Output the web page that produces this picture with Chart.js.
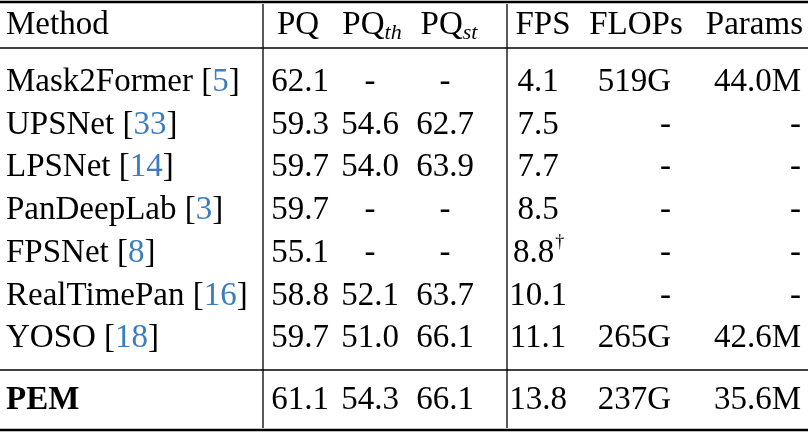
<!DOCTYPE html>
<html>
<head>
<meta charset="utf-8">
<script src="https://cdn.jsdelivr.net/npm/chart.js@4.4.1/dist/chart.umd.min.js"></script>
<style>
  html, body { margin: 0; padding: 0; background: #fff; }
  #wrap { width: 808px; height: 432px; }
</style>
</head>
<body>
<div id="wrap"><canvas id="tbl" width="808" height="432"></canvas></div>
<script>
// table data
const methods = ['Mask2Former', 'UPSNet', 'LPSNet', 'PanDeepLab', 'FPSNet', 'RealTimePan', 'YOSO', 'PEM'];
const cites = ['5', '33', '14', '3', '8', '16', '18', ''];
const pq = ['62.1', '59.3', '59.7', '59.7', '55.1', '58.8', '59.7', '61.1'];
const pqTh = ['-', '54.6', '54.0', '-', '-', '52.1', '51.0', '54.3'];
const pqSt = ['-', '62.7', '63.9', '-', '-', '63.7', '66.1', '66.1'];
const fps = ['4.1', '7.5', '7.7', '8.5', '8.8', '10.1', '11.1', '13.8'];
const flops = ['519G', '-', '-', '-', '-', '-', '265G', '237G'];
const params = ['44.0M', '-', '-', '-', '-', '-', '42.6M', '35.6M'];
const daggerRow = 4;

// layout (pixel space of the linear scales)
const rowY = [82, 125, 167, 210, 253, 296, 338, 400];
const headY = 25;
const FONT = '"Liberation Serif", "DejaVu Serif", serif';
const SIZE = 33;
const BLUE = '#3b7dbf';

const tablePlugin = {
  id: 'table',
  afterDraw(chart) {
    const { ctx, scales: { x, y } } = chart;
    const px = v => x.getPixelForValue(v);
    const py = v => y.getPixelForValue(v);
    ctx.save();
    ctx.fillStyle = '#000';
    ctx.strokeStyle = '#000';
    ctx.textBaseline = 'middle';
    const font = (b, s) => (b ? 'bold ' : '') + (s || SIZE) + 'px ' + FONT;
    const text = (t, xv, yv, align, bold, color) => {
      ctx.font = font(bold);
      ctx.textAlign = align || 'left';
      ctx.fillStyle = color || '#000';
      ctx.fillText(t, px(xv), py(yv));
      return ctx.measureText(t).width;
    };
    // subscripted header like PQ_th
    const pqHead = (sub, cx) => {
      ctx.font = font(false);
      const w1 = ctx.measureText('PQ').width;
      ctx.font = 'italic 22px ' + FONT;
      const w2 = ctx.measureText(sub).width;
      const left = px(cx) - (w1 + w2) / 2;
      ctx.textAlign = 'left';
      ctx.font = font(false);
      ctx.fillText('PQ', left, py(headY));
      ctx.font = 'italic 22px ' + FONT;
      ctx.fillText(sub, left + w1, py(headY) + 8);
    };

    // rules
    const hline = (yv, w) => {
      ctx.lineWidth = w;
      ctx.beginPath(); ctx.moveTo(px(0), py(yv)); ctx.lineTo(px(808), py(yv)); ctx.stroke();
    };
    hline(2, 2.4); hline(48, 1.3); hline(370, 1.3); hline(430, 2.4);
    ctx.lineWidth = 1.3;
    [263, 507].forEach(xv => {
      ctx.beginPath(); ctx.moveTo(px(xv), py(4)); ctx.lineTo(px(xv), py(428)); ctx.stroke();
    });

    // header
    text('Method', 6, headY, 'left');
    text('PQ', 298, headY, 'center');
    pqHead('th', 372);
    pqHead('st', 449);
    text('FPS', 543, headY, 'center');
    text('FLOPs', 636, headY, 'center');
    text('Params', 803, headY, 'right');

    // rows
    methods.forEach((m, i) => {
      const yv = rowY[i];
      const bold = m === 'PEM';
      let w = text(m, 6, yv, 'left', bold);
      if (cites[i]) {
        ctx.font = font(false);
        ctx.textAlign = 'left';
        let xx = px(6) + w + ctx.measureText(' ').width;
        ctx.fillStyle = '#000'; ctx.fillText('[', xx, py(yv)); xx += ctx.measureText('[').width;
        ctx.fillStyle = BLUE; ctx.fillText(cites[i], xx, py(yv)); xx += ctx.measureText(cites[i]).width;
        ctx.fillStyle = '#000'; ctx.fillText(']', xx, py(yv));
      }
      text(pq[i], 300, yv, 'center');
      text(pqTh[i], 370, yv, 'center');
      text(pqSt[i], 445, yv, 'center');
      if (i === daggerRow) {
        const fw = text(fps[i], 513, yv, 'left');
        ctx.font = '18px ' + FONT; ctx.textAlign = 'left';
        ctx.fillText('\u2020', px(513) + fw + 1, py(yv) - 11);
      } else {
        text(fps[i], 538, yv, 'center');
      }
      text(flops[i], 671, yv, 'right');
      text(params[i], 801, yv, 'right');
    });
    ctx.restore();
  }
};

new Chart(document.getElementById('tbl'), {
  type: 'scatter',
  data: { datasets: [{ data: [], pointRadius: 0 }] },
  options: {
    responsive: false,
    animation: false,
    layout: { padding: 0 },
    plugins: { legend: { display: false }, tooltip: { enabled: false } },
    scales: {
      x: { type: 'linear', min: 0, max: 808, display: false },
      y: { type: 'linear', min: 0, max: 432, reverse: true, display: false }
    }
  },
  plugins: [tablePlugin]
});
</script>
</body>
</html>
